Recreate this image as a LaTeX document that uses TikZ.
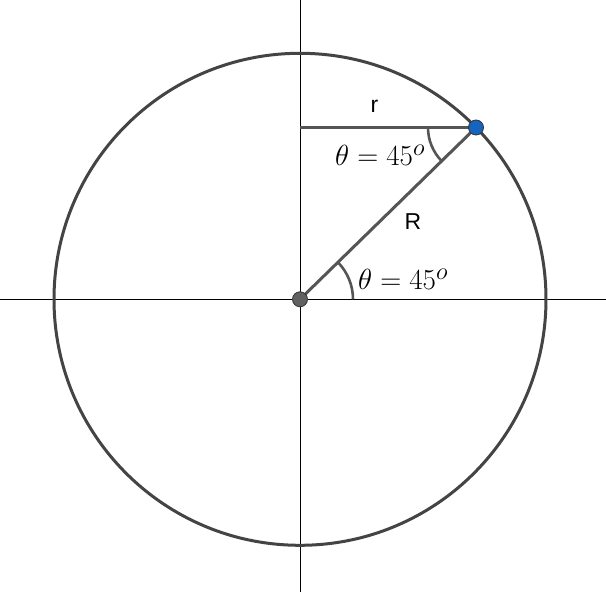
\documentclass[tikz,border=0pt]{standalone}
\usepackage{fontspec}
\newfontfamily\arialf{Liberation Sans}
\definecolor{circgray}{HTML}{444444}
\definecolor{seggray}{HTML}{555555}
\definecolor{ptblue}{HTML}{1565C0}
\definecolor{ptgray}{HTML}{616161}
\tikzset{
  axisline/.style={draw=black, line width=1.4pt},
  circline/.style={draw=circgray, line width=3pt},
  segline/.style={draw=seggray, line width=3pt},
  anglearc/.style={draw=seggray, line width=2.6pt},
  dotgray/.style={circle, fill=ptgray, draw=black!80, line width=0.8pt, minimum size=15pt, inner sep=0pt},
  dotblue/.style={circle, fill=ptblue, draw=black!80, line width=0.8pt, minimum size=15pt, inner sep=0pt},
  sanslabel/.style={font=\arialf\fontsize{23}{27}\selectfont, inner sep=0pt},
  mathlabel/.style={font=\fontsize{24.88}{30}\selectfont, inner sep=0pt, anchor=base west, scale=1.17, transform shape},
}
\begin{document}
\begin{tikzpicture}[x=1pt,y=1pt]
\useasboundingbox (0,0) rectangle (606,592);
\fill[white] (0,0) rectangle (606,592);
\coordinate (O) at (300,292.7);
\coordinate (P) at (476,464.5);
\coordinate (Q) at (300,464.5);
\coordinate (AL) at (0,292.5);
\coordinate (AR) at (606,292.5);
\coordinate (AB) at (300.5,0);
\coordinate (AT) at (300.5,592);
\draw[axisline] (AL) -- (AR);
\draw[axisline] (AB) -- (AT);
\draw[circline] (O) circle[radius=246];
\draw[segline] (Q) -- (P);
\draw[segline] (O) -- (P);
\draw[anglearc] ([shift={(53,0)}]O) arc[start angle=0, end angle=44.3, radius=53];
\draw[anglearc] ([shift={(-48,0)}]P) arc[start angle=180, end angle=224.3, radius=48];
\node[dotgray] (Odot) at (O) {};
\node[dotblue] (Pdot) at (P) {};
\node[sanslabel] (rlab) at (374.5,486) {r};
\node[sanslabel] (Rlab) at (413,370) {R};
\node[mathlabel] (th1) at (358,302) {$\theta = 45^o$};
\node[mathlabel] (th2) at (335,426) {$\theta = 45^o$};
\end{tikzpicture}
\end{document}
